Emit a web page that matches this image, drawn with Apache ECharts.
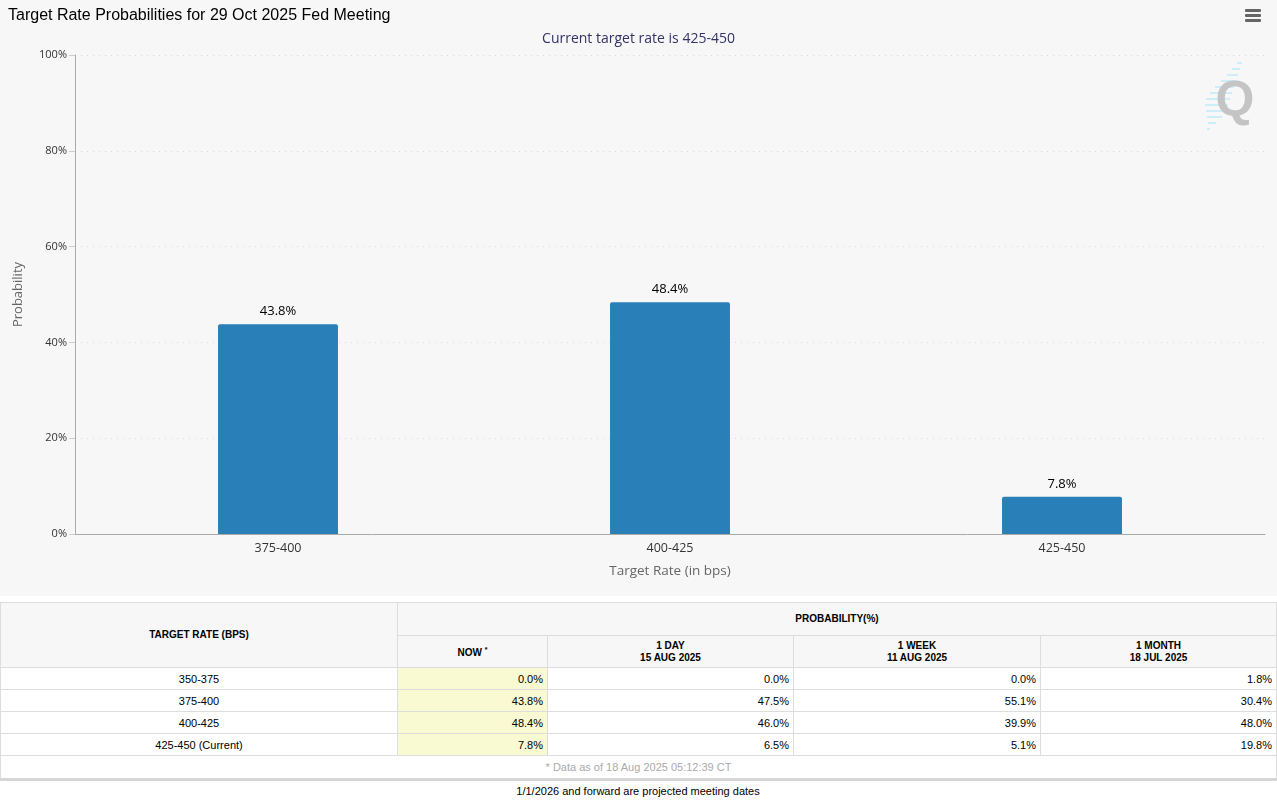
<!DOCTYPE html>
<html>
<head>
<meta charset="utf-8">
<script src="https://cdn.jsdelivr.net/npm/echarts@6/dist/echarts.min.js"></script>
<style>
  html, body { margin: 0; padding: 0; background: #fff; }
  #chart { width: 1277px; height: 596px; background: #f7f7f7; }
  #tbl { border-collapse: collapse; width: 1276px; margin-top: 6px; font-family: 'Liberation Sans', Arial, sans-serif; font-size: 11px; color: #000; table-layout: fixed; }
  #tbl td, #tbl th { border: 1px solid #dddddd; padding: 0 4px; }
  #tbl th { background: #f7f7f7; font-weight: bold; font-size: 10px; text-align: center; line-height: 12px; }
  #tbl td.rate { text-align: center; }
  #tbl td.val { text-align: right; }
  #tbl td.now { background: #f9f9d2; }
  #tbl tr.data td { height: 21px; }
  #tbl td.asof { text-align: center; color: #aaa; height: 22px; border-bottom: 3px solid #d6d6d6; }
  #foot { width: 1276px; text-align: center; font-family: 'Liberation Sans', Arial, sans-serif; font-size: 11px; height: 20px; line-height: 21px; border-bottom: 1px solid #ddd; }
</style>
</head>
<body>
<div id="chart"></div>
<table id="tbl"></table>
<div id="foot">1/1/2026 and forward are projected meeting dates</div>
<script>
// ---- chart data ----
const categories = ['375-400', '400-425', '425-450'];
const probabilities = [43.8, 48.4, 7.8];
const yTicks = [0, 20, 40, 60, 80, 100];

// ---- table data ----
const tableRates = ['350-375', '375-400', '400-425', '425-450 (Current)'];
const nowValues = [0.0, 43.8, 48.4, 7.8];
const oneDayValues = [0.0, 47.5, 46.0, 6.5];
const oneWeekValues = [0.0, 55.1, 39.9, 5.1];
const oneMonthValues = [1.8, 30.4, 48.0, 19.8];
const columnHeads = [['NOW', ''], ['1 DAY', '15 AUG 2025'], ['1 WEEK', '11 AUG 2025'], ['1 MONTH', '18 JUL 2025']];

const chart = echarts.init(document.getElementById('chart'));
const uiFont = "'Open Sans', 'DejaVu Sans', sans-serif";
const yMin = yTicks[0], yMax = yTicks[yTicks.length - 1];
const stripe = '#cdeef8';
const stripes = [[1237, 63, 1242], [1232, 69, 1240], [1227, 75, 1238], [1221, 81, 1236], [1215, 87, 1234], [1210, 93, 1232],
  [1206, 99, 1230], [1205, 105, 1228], [1206, 111, 1225], [1207, 117, 1222], [1208, 123, 1216], [1207, 129, 1210]];
chart.setOption({
  backgroundColor: '#f7f7f7',
  animation: false,
  title: [
    { text: 'Target Rate Probabilities for 29 Oct 2025 Fed Meeting', left: 3, top: 3,
      textStyle: { fontFamily: "'Liberation Sans', Arial, sans-serif", fontSize: 16, fontWeight: 'normal', color: '#000' } },
    { text: 'Current target rate is 425-450', left: 'center', top: 27,
      textStyle: { fontFamily: uiFont, fontSize: 14, fontWeight: 'normal', color: '#333366' } }
  ],
  grid: [
    { left: 75, right: 12, top: 55, bottom: 62 },
    { left: 82, right: 19, top: 55, bottom: 62 }
  ],
  xAxis: [
    { type: 'category', gridIndex: 0, data: categories,
      axisLine: { lineStyle: { color: '#aaaaaa' } }, axisTick: { show: false }, axisLabel: { show: false } },
    { type: 'category', gridIndex: 1, data: categories,
      name: 'Target Rate (in bps)', nameLocation: 'middle', nameGap: 30,
      nameTextStyle: { fontFamily: uiFont, fontSize: 13.5, color: '#666' },
      axisLine: { show: false },
      axisTick: { alignWithLabel: true, length: 10, lineStyle: { color: '#cccccc' } },
      axisLabel: { fontFamily: uiFont, fontSize: 12.5, color: '#333', margin: 8 } }
  ],
  yAxis: [
    { type: 'value', gridIndex: 0, min: yMin, max: yMax, interval: 20,
      name: 'Probability', nameLocation: 'middle', nameGap: 50,
      nameTextStyle: { fontFamily: uiFont, fontSize: 13, color: '#666' },
      axisLine: { show: true, lineStyle: { color: '#aaaaaa' } },
      axisTick: { show: true, length: 6, lineStyle: { color: '#cccccc' } },
      axisLabel: { formatter: '{value}%', fontFamily: uiFont, fontSize: 11, color: '#333', margin: 8 },
      splitLine: { lineStyle: { color: '#d8d8d8', type: [1, 5] } } },
    { type: 'value', gridIndex: 1, min: yMin, max: yMax, interval: 20, show: false }
  ],
  series: [{
    type: 'bar', xAxisIndex: 1, yAxisIndex: 1,
    data: probabilities,
    barWidth: '30.6%',
    itemStyle: { color: '#2980b9', borderRadius: [2, 2, 0, 0] },
    label: { show: true, position: 'top', distance: 6, formatter: p => p.value.toFixed(1) + '%',
      fontFamily: uiFont, fontSize: 13, color: '#000' }
  }],
  graphic: [
    { type: 'rect', shape: { x: 1245, y: 9, width: 16, height: 3, r: 1 }, style: { fill: '#666' } },
    { type: 'rect', shape: { x: 1245, y: 14, width: 16, height: 3, r: 1 }, style: { fill: '#666' } },
    { type: 'rect', shape: { x: 1245, y: 19, width: 16, height: 3, r: 1 }, style: { fill: '#666' } },
    { type: 'group', silent: true, children: stripes.map(s => ({
      type: 'line', shape: { x1: s[0], y1: s[1], x2: s[2], y2: s[1] }, style: { stroke: stripe, lineWidth: 2 } })) },
    { type: 'text', silent: true,
      style: { x: 1235, y: 102, text: 'Q', align: 'center', verticalAlign: 'middle',
        fontFamily: "'Liberation Sans', Arial, sans-serif", fontSize: 50, fontWeight: 'bold', fill: '#c4c4c4' } }
  ]
});

// ---- build table ----
const tbl = document.getElementById('tbl');
const fmt = v => v.toFixed(1) + '%';
let html = '<colgroup><col style="width:397px"><col style="width:150px"><col style="width:246px"><col style="width:247px"><col style="width:236px"></colgroup>';
html += '<tr style="height:33px"><th rowspan="2">TARGET RATE (BPS)</th><th colspan="4">PROBABILITY(%)</th></tr>';
html += '<tr style="height:32px">' + columnHeads.map((h, i) =>
  i === 0 ? '<th>' + h[0] + ' <sup style="font-size:7px">*</sup></th>' : '<th>' + h[0] + '<br>' + h[1] + '</th>').join('') + '</tr>';
tableRates.forEach((r, i) => {
  html += '<tr class="data"><td class="rate">' + r + '</td>' +
    '<td class="val now">' + fmt(nowValues[i]) + '</td>' +
    '<td class="val">' + fmt(oneDayValues[i]) + '</td>' +
    '<td class="val">' + fmt(oneWeekValues[i]) + '</td>' +
    '<td class="val">' + fmt(oneMonthValues[i]) + '</td></tr>';
});
html += '<tr><td class="asof" colspan="5">* Data as of 18 Aug 2025 05:12:39 CT</td></tr>';
tbl.innerHTML = html;
</script>
</body>
</html>
